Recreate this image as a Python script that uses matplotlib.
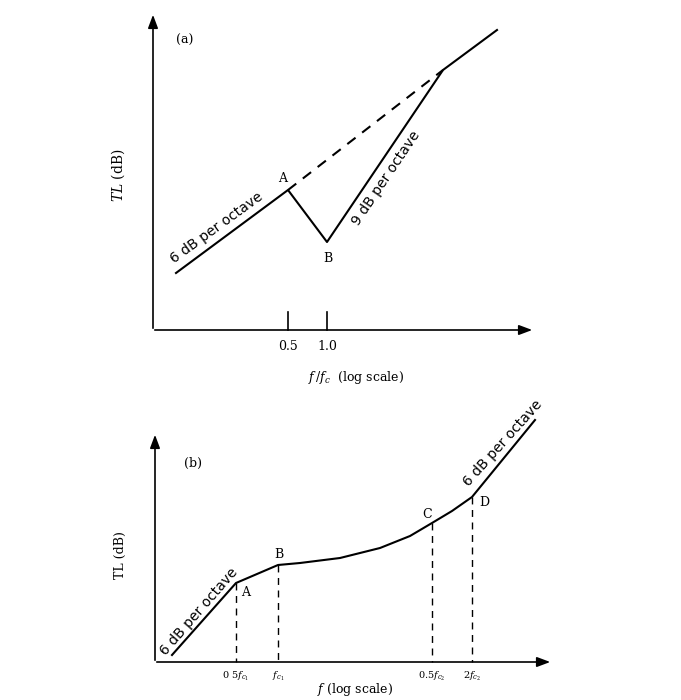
import numpy as np
import matplotlib.pyplot as plt

plt.rcParams["mathtext.fontset"] = "dejavuserif"

# panel (a): curve vertices in figure pixels (x right, y down)
a_solid_x = [176, 288, 327, 443, 497]
a_solid_y = [273, 190, 242, 70, 30]
a_dash_x = [288, 443]
a_dash_y = [190, 70]
a_ticks_x = [288, 327]
a_tick_labels = ["0.5", "1.0"]

# panel (b)
b_curve_x = [172, 236, 278, 300, 340, 380, 410, 432, 452, 472, 490, 535]
b_curve_y = [655, 583, 565, 563, 558, 548, 536, 523, 511, 497, 475, 420]
b_marks_x = [236, 278, 432, 472]
b_marks_y = [583, 565, 523, 497]
b_tick_labels = [r"0 5$f_{c_1}$", r"$f_{c_1}$", r"0.5$f_{c_2}$", r"2$f_{c_2}$"]

fig = plt.figure(figsize=(6.81, 7.0), dpi=100)
ax = fig.add_axes([0, 0, 1, 1])
ax.set_xlim(0, 681)
ax.set_ylim(700, 0)
ax.axis("off")

serif = "DejaVu Serif"
arrow = dict(arrowstyle="-|>,head_width=0.3,head_length=0.8", color="black", lw=1.2)

# ---- panel (a)
ax.annotate("", xy=(153, 12), xytext=(153, 331), arrowprops=arrow)
ax.annotate("", xy=(535, 330), xytext=(152, 330), arrowprops=arrow)
ax.plot(a_solid_x, a_solid_y, color="black", lw=1.5)
ax.plot(a_dash_x, a_dash_y, color="black", lw=1.5, ls=(0, (5, 4)))
for x, lab in zip(a_ticks_x, a_tick_labels):
    ax.plot([x, x], [312, 330], color="black", lw=1.2)
    ax.text(x, 347, lab, ha="center", va="center", fontsize=9, family=serif)
ax.text(356, 378, r"$f\,/f_c$  (log scale)", ha="center", va="center", fontsize=9, family=serif)
ax.text(118, 175, r"$TL$ (dB)", rotation=90, ha="center", va="center", fontsize=10, family=serif)
ax.text(185, 40, "(a)", ha="center", va="center", fontsize=9, family=serif)
ax.text(217, 228, "6 dB per octave", rotation=36, ha="center", va="center", fontsize=10)
ax.text(386, 178, "9 dB per octave", rotation=56, ha="center", va="center", fontsize=10)
ax.text(283, 179, "A", ha="center", va="center", fontsize=9, family=serif)
ax.text(328, 258, "B", ha="center", va="center", fontsize=9, family=serif)

# ---- panel (b)
ax.annotate("", xy=(155, 432), xytext=(155, 663), arrowprops=arrow)
ax.annotate("", xy=(553, 662), xytext=(154, 662), arrowprops=arrow)
ax.plot(b_curve_x, b_curve_y, color="black", lw=1.5)
for x, y, lab in zip(b_marks_x, b_marks_y, b_tick_labels):
    ax.plot([x, x], [y, 662], color="black", lw=1.0, ls=(0, (5, 4)))
    ax.text(x, 676, lab, ha="center", va="center", fontsize=7, family=serif)
ax.text(355, 690, r"$f$ (log scale)", ha="center", va="center", fontsize=9, family=serif)
ax.text(120, 555, "TL (dB)", rotation=90, ha="center", va="center", fontsize=9, family=serif)
ax.text(193, 463, "(b)", ha="center", va="center", fontsize=9, family=serif)
ax.text(199, 612, "6 dB per octave", rotation=49, ha="center", va="center", fontsize=10)
ax.text(503, 443, "6 dB per octave", rotation=48, ha="center", va="center", fontsize=10)
for x, y, lab in [(246, 592, "A"), (279, 554, "B"), (427, 514, "C"), (484, 503, "D")]:
    ax.text(x, y, lab, ha="center", va="center", fontsize=9, family=serif)

fig.savefig("out.png", dpi=100)
